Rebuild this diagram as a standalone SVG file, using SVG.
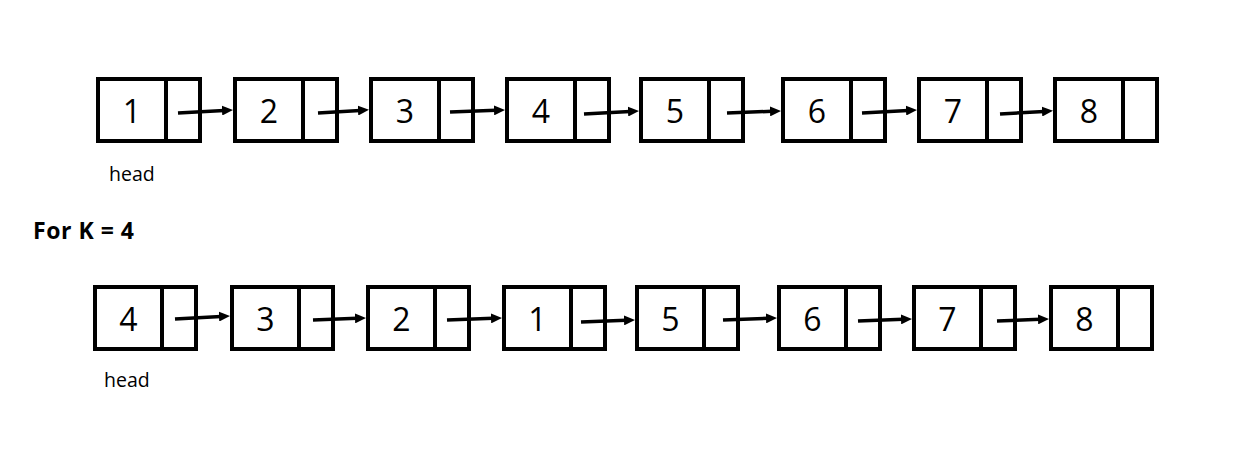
<svg xmlns="http://www.w3.org/2000/svg" width="1239" height="472" viewBox="0 0 1239 472">
  <style>
    .box { fill: #ffffff; stroke: #000000; stroke-width: 4; }
    .div { stroke: #000000; stroke-width: 4; }
    .num { font-family: "Open Sans", "Noto Sans", "Liberation Sans", sans-serif; font-size: 32px; fill: #000000; text-anchor: middle; }
    .lbl { font-family: "Open Sans", "Noto Sans", "Liberation Sans", sans-serif; font-size: 19.5px; fill: #000000; }
    .title { font-family: "Open Sans", "Noto Sans", "Liberation Sans", sans-serif; font-size: 23px; font-weight: bold; fill: #000000; }
    .arr { fill: none; stroke: #000000; stroke-width: 3.5; marker-end: url(#ah); }
  </style>
  <defs>
    <marker id="ah" viewBox="0 0 11 10" refX="2" refY="5" markerWidth="11" markerHeight="10" markerUnits="userSpaceOnUse" orient="auto">
      <path d="M0,0 L11,5 L0,10 Z" fill="#000000"/>
    </marker>
  </defs>
  <rect width="1239" height="472" fill="#ffffff"/>

  <!-- Row 1 -->
  <g id="r1n1"><rect class="box" x="98" y="79" width="102" height="62"/><line class="div" x1="166" y1="79" x2="166" y2="141"/><text class="num" x="132" y="123">1</text></g>
  <g id="r1n2"><rect class="box" x="235" y="79" width="102" height="62"/><line class="div" x1="303" y1="79" x2="303" y2="141"/><text class="num" x="269" y="123">2</text></g>
  <g id="r1n3"><rect class="box" x="371" y="79" width="102" height="62"/><line class="div" x1="439" y1="79" x2="439" y2="141"/><text class="num" x="405" y="123">3</text></g>
  <g id="r1n4"><rect class="box" x="507" y="79" width="102" height="62"/><line class="div" x1="575" y1="79" x2="575" y2="141"/><text class="num" x="541" y="123">4</text></g>
  <g id="r1n5"><rect class="box" x="641" y="79" width="102" height="62"/><line class="div" x1="709" y1="79" x2="709" y2="141"/><text class="num" x="675" y="123">5</text></g>
  <g id="r1n6"><rect class="box" x="783" y="79" width="102" height="62"/><line class="div" x1="851" y1="79" x2="851" y2="141"/><text class="num" x="817" y="123">6</text></g>
  <g id="r1n7"><rect class="box" x="919" y="79" width="102" height="62"/><line class="div" x1="987" y1="79" x2="987" y2="141"/><text class="num" x="953" y="123">7</text></g>
  <g id="r1n8"><rect class="box" x="1055" y="79" width="102" height="62"/><line class="div" x1="1123" y1="79" x2="1123" y2="141"/><text class="num" x="1089" y="123">8</text></g>
  <g id="head1"><text class="lbl" x="109" y="181">head</text></g>

  <g id="title"><text class="title" x="33" y="239" textLength="101" lengthAdjust="spacing">For K = 4</text></g>

  <!-- Row 2 -->
  <g id="r2n4"><rect class="box" x="95" y="287" width="101" height="62"/><line class="div" x1="162" y1="287" x2="162" y2="349"/><text class="num" x="128.5" y="331">4</text></g>
  <g id="r2n3"><rect class="box" x="232" y="287" width="101" height="62"/><line class="div" x1="299" y1="287" x2="299" y2="349"/><text class="num" x="265.5" y="331">3</text></g>
  <g id="r2n2"><rect class="box" x="368" y="287" width="101" height="62"/><line class="div" x1="435" y1="287" x2="435" y2="349"/><text class="num" x="401.5" y="331">2</text></g>
  <g id="r2n1"><rect class="box" x="504" y="287" width="101" height="62"/><line class="div" x1="571" y1="287" x2="571" y2="349"/><text class="num" x="537.5" y="331">1</text></g>
  <g id="r2n5"><rect class="box" x="637" y="287" width="101" height="62"/><line class="div" x1="704" y1="287" x2="704" y2="349"/><text class="num" x="670.5" y="331">5</text></g>
  <g id="r2n6"><rect class="box" x="779" y="287" width="101" height="62"/><line class="div" x1="846" y1="287" x2="846" y2="349"/><text class="num" x="812.5" y="331">6</text></g>
  <g id="r2n7"><rect class="box" x="914" y="287" width="101" height="62"/><line class="div" x1="981" y1="287" x2="981" y2="349"/><text class="num" x="947.5" y="331">7</text></g>
  <g id="r2n8"><rect class="box" x="1051" y="287" width="101" height="62"/><line class="div" x1="1118" y1="287" x2="1118" y2="349"/><text class="num" x="1084.5" y="331">8</text></g>
  <g id="head2"><text class="lbl" x="104" y="387">head</text></g>

  <g id="connectors">
    <path class="arr" d="M178,113 L224,110.4"/>
    <path class="arr" d="M318,113 L360,110.4"/>
    <path class="arr" d="M450,112 L496,110.3"/>
    <path class="arr" d="M584,114 L630,111.4"/>
    <path class="arr" d="M727,113 L772,111.3"/>
    <path class="arr" d="M862,113 L908,110.4"/>
    <path class="arr" d="M1000,114 L1044,111.4"/>

    <path class="arr" d="M175,319 L221,316.4"/>
    <path class="arr" d="M313,320 L357,318.3"/>
    <path class="arr" d="M447,320 L493,318.3"/>
    <path class="arr" d="M581,322 L626,320.3"/>
    <path class="arr" d="M723,320 L768,318.3"/>
    <path class="arr" d="M858,321 L903,319.3"/>
    <path class="arr" d="M997,321 L1040,319.3"/>
  </g>
</svg>
